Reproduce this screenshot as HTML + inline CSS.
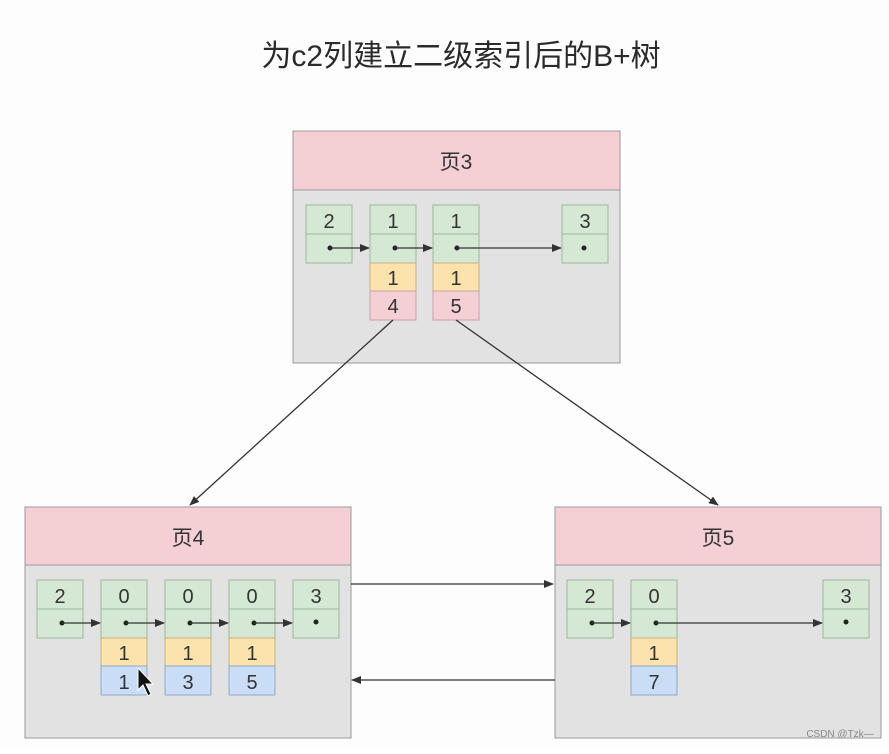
<!DOCTYPE html>
<html><head><meta charset="utf-8"><style>
body{margin:0;background:#fff;}
svg text{font-family:"Liberation Sans","Noto Sans CJK SC",sans-serif;fill:#333;}
</style></head><body>
<svg width="889" height="749" xmlns="http://www.w3.org/2000/svg">
<defs><marker id="a" markerWidth="10" markerHeight="8" refX="9" refY="4" orient="auto" markerUnits="userSpaceOnUse"><path d="M0,0 L10,4 L0,8 z" fill="#333"/></marker></defs>
<rect width="889" height="749" fill="#fdfdfd"/>
<text x="461" y="66" font-size="30" text-anchor="middle" style="fill:#2a2a2a">为c2列建立二级索引后的B+树</text>
<g stroke="#999" stroke-width="1">
<rect x="293" y="131" width="327" height="232" fill="#e2e2e2"/>
<rect x="293" y="131" width="327" height="59" fill="#f4cfd3"/>
<rect x="25" y="507" width="326" height="231" fill="#e2e2e2"/>
<rect x="25" y="507" width="326" height="58" fill="#f4cfd3"/>
<rect x="555" y="507" width="326" height="231" fill="#e2e2e2"/>
<rect x="555" y="507" width="326" height="58" fill="#f4cfd3"/>
</g>
<g font-size="21" text-anchor="middle">
<text x="456" y="169">页3</text><text x="188" y="545">页4</text><text x="718" y="545">页5</text>
</g>
<g stroke="#9ab89a" stroke-width="1" fill="#d5e8d4">
<rect x="306" y="205" width="46" height="29"/><rect x="306" y="234" width="46" height="29"/>
<rect x="370" y="205" width="46" height="29"/><rect x="370" y="234" width="46" height="29"/>
<rect x="433" y="205" width="46" height="29"/><rect x="433" y="234" width="46" height="29"/>
<rect x="562" y="205" width="46" height="29"/><rect x="562" y="234" width="46" height="29"/>
<rect x="37" y="580" width="46" height="29"/><rect x="37" y="609" width="46" height="29"/>
<rect x="101" y="580" width="46" height="29"/><rect x="101" y="609" width="46" height="29"/>
<rect x="165" y="580" width="46" height="29"/><rect x="165" y="609" width="46" height="29"/>
<rect x="229" y="580" width="46" height="29"/><rect x="229" y="609" width="46" height="29"/>
<rect x="293" y="580" width="46" height="29"/><rect x="293" y="609" width="46" height="29"/>
<rect x="567" y="580" width="46" height="29"/><rect x="567" y="609" width="46" height="29"/>
<rect x="631" y="580" width="46" height="29"/><rect x="631" y="609" width="46" height="29"/>
<rect x="823" y="580" width="46" height="29"/><rect x="823" y="609" width="46" height="29"/>
</g>
<g stroke="#c8b080" fill="#fbe3ab">
<rect x="370" y="263" width="46" height="28"/><rect x="433" y="263" width="46" height="28"/>
<rect x="101" y="638" width="46" height="28"/><rect x="165" y="638" width="46" height="28"/><rect x="229" y="638" width="46" height="28"/>
<rect x="631" y="638" width="46" height="28"/>
</g>
<g stroke="#c9a0a4" fill="#f4cfd3"><rect x="370" y="291" width="46" height="29"/><rect x="433" y="291" width="46" height="29"/></g>
<g stroke="#8fa8c8" fill="#c9ddf6">
<rect x="101" y="666" width="46" height="29"/><rect x="165" y="666" width="46" height="29"/><rect x="229" y="666" width="46" height="29"/>
<rect x="631" y="666" width="46" height="29"/>
</g>
<g font-size="20" text-anchor="middle">
<text x="329" y="228">2</text><text x="393" y="228">1</text><text x="456" y="228">1</text><text x="585" y="228">3</text>
<text x="393" y="285">1</text><text x="456" y="285">1</text><text x="393" y="313">4</text><text x="456" y="313">5</text>
<text x="60" y="603">2</text><text x="124" y="603">0</text><text x="188" y="603">0</text><text x="252" y="603">0</text><text x="316" y="603">3</text>
<text x="124" y="660">1</text><text x="188" y="660">1</text><text x="252" y="660">1</text>
<text x="124" y="689">1</text><text x="188" y="689">3</text><text x="252" y="689">5</text>
<text x="590" y="603">2</text><text x="654" y="603">0</text><text x="846" y="603">3</text>
<text x="654" y="660">1</text><text x="654" y="689">7</text>
</g>
<g fill="#222">
<circle cx="330" cy="248" r="2.5"/><circle cx="395" cy="248" r="2.5"/><circle cx="457" cy="248" r="2.5"/><circle cx="584" cy="248" r="2.5"/>
<circle cx="62" cy="623" r="2.5"/><circle cx="126" cy="623" r="2.5"/><circle cx="190" cy="623" r="2.5"/><circle cx="254" cy="623" r="2.5"/><circle cx="316" cy="622" r="2.5"/>
<circle cx="592" cy="623" r="2.5"/><circle cx="656" cy="623" r="2.5"/><circle cx="846" cy="622" r="2.5"/>
</g>
<g stroke="#333" stroke-width="1.3" fill="none" marker-end="url(#a)">
<line x1="330" y1="248" x2="369" y2="248"/><line x1="395" y1="248" x2="432" y2="248"/><line x1="457" y1="248" x2="561" y2="248"/>
<line x1="62" y1="623" x2="100" y2="623"/><line x1="126" y1="623" x2="164" y2="623"/><line x1="190" y1="623" x2="228" y2="623"/><line x1="254" y1="623" x2="292" y2="623"/>
<line x1="592" y1="623" x2="630" y2="623"/><line x1="656" y1="623" x2="822" y2="623"/>
<line x1="393" y1="320" x2="190" y2="505"/><line x1="456" y1="320" x2="718" y2="505"/>
<line x1="351" y1="584" x2="553" y2="584"/><line x1="555" y1="680" x2="352" y2="680"/>
</g>
<path d="M138,668 L138,690 L143,685 L148,696 L151,694 L146,684 L153,684 Z" fill="#111" stroke="#fff" stroke-width="1"/>
<text x="840" y="737" font-size="10" text-anchor="middle" style="fill:#888">CSDN @Tzk—</text>
</svg>
</body></html>
